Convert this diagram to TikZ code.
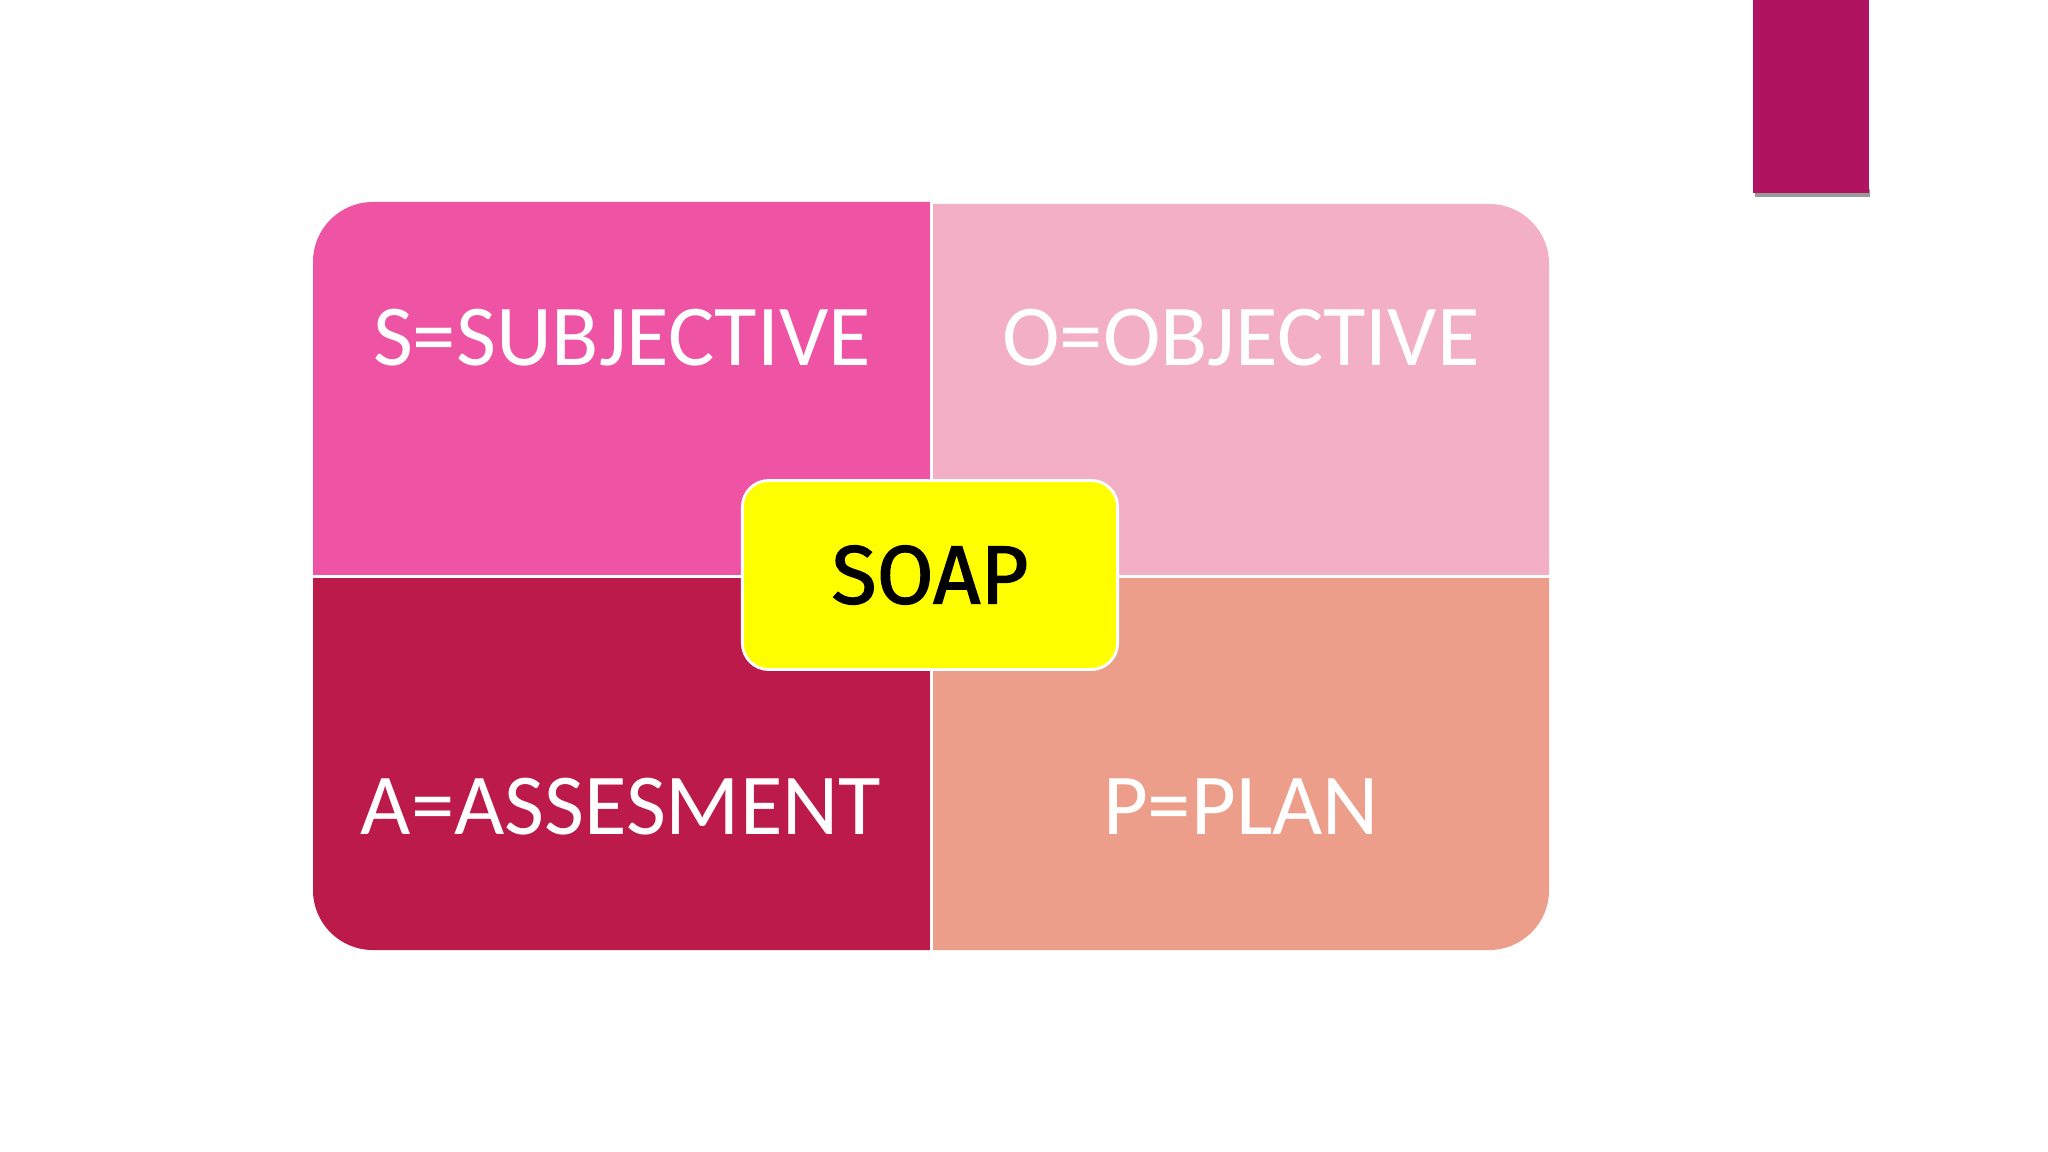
\documentclass[tikz,border=0pt]{standalone}
\usepackage{fontspec}
\setmainfont{Carlito}
\newfontfamily\soapfont{Fira Sans}[FakeBold=1.6]

\definecolor{subjpink}{RGB}{238,83,164}
\definecolor{objpink}{RGB}{242,175,197}
\definecolor{assesred}{RGB}{187,26,75}
\definecolor{plansalmon}{RGB}{236,158,139}
\definecolor{soapyellow}{RGB}{255,255,0}
\definecolor{barmagenta}{RGB}{176,19,98}

\tikzset{
	quad/.style={rounded corners=17pt},
	gap/.style={draw=white, line width=1pt},
	quadlabel/.style={text=white, inner sep=0pt, font=\fontsize{24.7}{28}\selectfont},
	soapbox/.style={fill=soapyellow, draw=white, line width=0.8pt, rounded corners=7.5pt,
		minimum width=3.75cm, minimum height=1.89cm, inner sep=0pt,
		font=\soapfont\fontsize{23.5}{27}\selectfont}
}

\begin{document}
\begin{tikzpicture}[x=0.01cm, y=-0.01cm]
	\useasboundingbox (0, 0) rectangle (2048, 1152);

	% bar in the top right corner
	\fill[black!40] (1755, 189) rectangle (1870, 197);
	\fill[barmagenta] (1753, 0) rectangle (1869, 193);

	% the four quarters
	\begin{scope}
		\clip (313, 202) rectangle (931, 576);
		\fill[subjpink, quad] (313, 202) rectangle (1549, 950);
	\end{scope}
	\begin{scope}
		\clip (931, 202) rectangle (1549, 576);
		\fill[objpink, quad] (313, 204) rectangle (1549, 950);
	\end{scope}
	\begin{scope}
		\clip (313, 576) rectangle (931, 950);
		\fill[assesred, quad] (313, 202) rectangle (1549, 950);
	\end{scope}
	\begin{scope}
		\clip (931, 576) rectangle (1549, 950);
		\fill[plansalmon, quad] (313, 202) rectangle (1549, 950);
	\end{scope}
	\draw[gap] (931.5, 200) -- (931.5, 952);
	\draw[gap] (311, 576.5) -- (1551, 576.5);

	\node[quadlabel] (subj) at (622, 338) {S=SUBJECTIVE};
	\node[quadlabel] (obj) at (1241, 338) {O=OBJECTIVE};
	\node[quadlabel] (asses) at (621, 807) {A=ASSESMENT};
	\node[quadlabel] (plan) at (1241, 807) {P=PLAN};

	\node[soapbox] (soap) at (930, 575) {SOAP};
\end{tikzpicture}
\end{document}
